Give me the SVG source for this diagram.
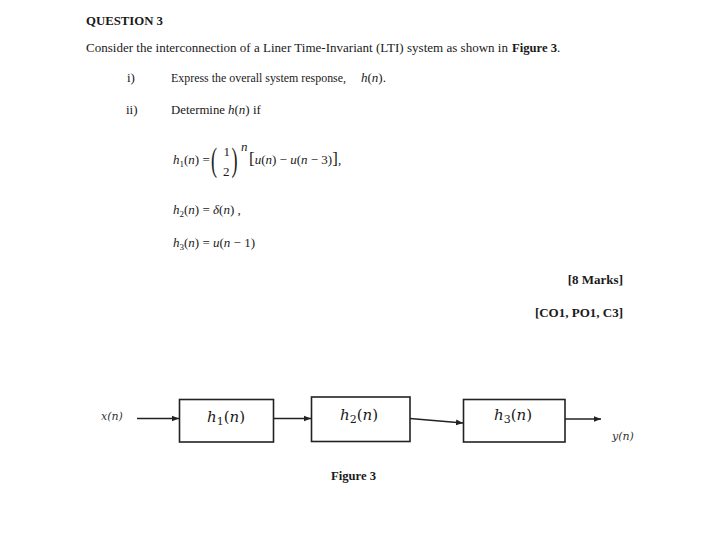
<svg xmlns="http://www.w3.org/2000/svg" width="706" height="548" viewBox="0 0 706 548">
<defs>
<style>
.t{font-family:"Liberation Serif","Times New Roman",serif;font-size:13px;fill:#1a1a1a}
.c{font-size:12.5px}
.b{font-weight:bold}
.m{font-family:"Liberation Serif","Times New Roman",serif;font-size:13px;fill:#1a1a1a}
.i{font-style:italic}
.bx{fill:#fff;stroke:#222;stroke-width:1.6}
.ln{stroke:#222;stroke-width:1.6;fill:none}
.lb{font-family:"DejaVu Serif","Liberation Serif",serif;font-size:15px;font-style:italic;fill:#1a1a1a}
.sm{font-family:"DejaVu Serif","Liberation Serif",serif;font-size:11px;font-style:italic;fill:#333}
</style>
<marker id="ah" viewBox="0 0 10 10" refX="10" refY="5" markerWidth="7" markerHeight="7" markerUnits="userSpaceOnUse" orient="auto">
<path d="M0,1 L10,5 L0,9 Z" fill="#222"/>
</marker>
</defs>
<rect width="706" height="548" fill="#fff"/>

<text class="t b" x="86" y="25" textLength="77" lengthAdjust="spacingAndGlyphs">QUESTION 3</text>
<text class="t" x="86" y="51.5" textLength="422" lengthAdjust="spacingAndGlyphs">Consider the interconnection of a Liner Time-Invariant (LTI) system as shown in</text>
<text class="t b" x="512" y="51.5" textLength="45" lengthAdjust="spacingAndGlyphs">Figure 3</text>
<text class="t" x="557" y="51.5">.</text>

<text class="t" x="127" y="81.5">i)</text>
<text class="t c" x="171" y="81.5" textLength="175" lengthAdjust="spacingAndGlyphs">Express the overall system response,</text>
<text class="m" x="361" y="81.5"><tspan class="i">h</tspan>(<tspan class="i">n</tspan>).</text>

<text class="t" x="126" y="114">ii)</text>
<text class="t c" x="171" y="114" textLength="54" lengthAdjust="spacingAndGlyphs">Determine</text>
<text class="m" x="228" y="114"><tspan class="i">h</tspan>(<tspan class="i">n</tspan>) if</text>

<!-- equation 1 -->
<text class="m" x="173" y="164"><tspan class="i">h</tspan><tspan font-size="9" dy="3">1</tspan><tspan dy="-3">(</tspan><tspan class="i">n</tspan>) =</text>
<text x="0" y="0" style="font-family:'Liberation Serif',serif;font-size:33px;fill:#1a1a1a" transform="translate(211 171) scale(0.55 1)">(</text>
<text class="m" x="223.5" y="156">1</text>
<text class="m" x="223" y="175.5">2</text>
<text x="0" y="0" style="font-family:'Liberation Serif',serif;font-size:33px;fill:#1a1a1a" transform="translate(231.5 171) scale(0.55 1)">)</text>
<text class="m i" x="241" y="151" font-size="9">n</text>
<text class="m" x="249" y="164"><tspan style="font-size:17px">[</tspan><tspan class="i">u</tspan>(<tspan class="i">n</tspan>) − <tspan class="i">u</tspan>(<tspan class="i">n</tspan> − 3)<tspan style="font-size:17px">]</tspan>,</text>

<!-- equation 2 -->
<text class="m" x="173" y="214"><tspan class="i">h</tspan><tspan font-size="9" dy="3">2</tspan><tspan dy="-3">(</tspan><tspan class="i">n</tspan>) = <tspan class="i">δ</tspan>(<tspan class="i">n</tspan>) ,</text>
<!-- equation 3 -->
<text class="m" x="173" y="247"><tspan class="i">h</tspan><tspan font-size="9" dy="3">3</tspan><tspan dy="-3">(</tspan><tspan class="i">n</tspan>) = <tspan class="i">u</tspan>(<tspan class="i">n</tspan> − 1)</text>

<text class="t b" x="623" y="284" text-anchor="end">[8 Marks]</text>
<text class="t b" x="623" y="317" text-anchor="end">[CO1, PO1, C3]</text>

<g id="connectors">
<line class="ln" x1="137" y1="418.5" x2="179" y2="418.5" marker-end="url(#ah)"/>
<line class="ln" x1="274" y1="418.5" x2="311" y2="418.5" marker-end="url(#ah)"/>
<line class="ln" x1="410" y1="418.5" x2="463" y2="423" marker-end="url(#ah)"/>
<line class="ln" x1="565" y1="419" x2="601" y2="419" marker-end="url(#ah)"/>
</g>

<g id="input">
<text class="sm" x="101" y="420">x(n)</text>
</g>
<g id="h1">
<rect class="bx" x="179.5" y="399.5" width="94" height="42.5"/>
<text class="lb" x="207" y="422"><tspan>h</tspan><tspan font-size="11" font-style="normal" dy="3">1</tspan><tspan dy="-3" font-style="normal">(</tspan>n<tspan font-style="normal">)</tspan></text>
</g>
<g id="h2">
<rect class="bx" x="311.5" y="397" width="98.5" height="44.5"/>
<text class="lb" x="340" y="420"><tspan>h</tspan><tspan font-size="11" font-style="normal" dy="3">2</tspan><tspan dy="-3" font-style="normal">(</tspan>n<tspan font-style="normal">)</tspan></text>
</g>
<g id="h3">
<rect class="bx" x="463.5" y="399.5" width="101.5" height="42.5"/>
<text class="lb" x="494" y="419.5"><tspan>h</tspan><tspan font-size="11" font-style="normal" dy="3">3</tspan><tspan dy="-3" font-style="normal">(</tspan>n<tspan font-style="normal">)</tspan></text>
</g>
<g id="output">
<text class="sm" x="612" y="440">y(n)</text>
</g>

<text class="t b" x="331" y="479.5" textLength="45" lengthAdjust="spacingAndGlyphs">Figure 3</text>
</svg>
